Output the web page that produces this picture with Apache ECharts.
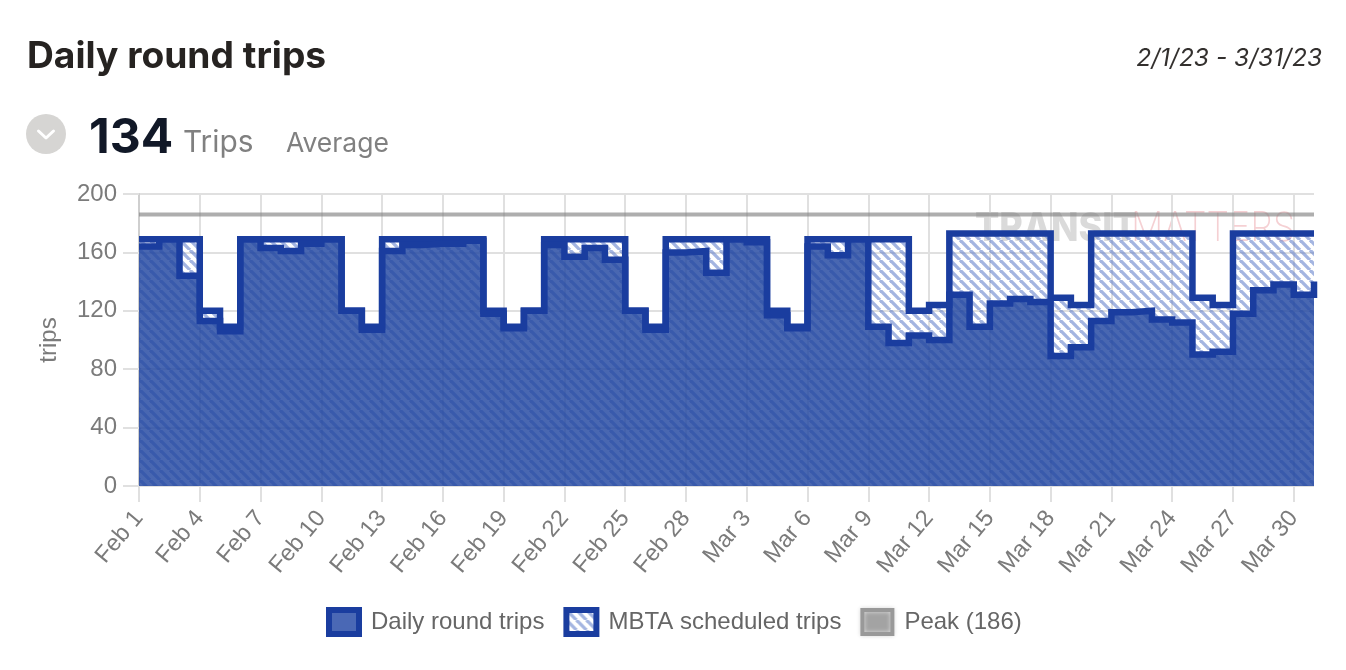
<!DOCTYPE html>
<html>
<head>
<meta charset="utf-8">
<style>html,body{margin:0;padding:0;background:#fff}#chart{width:1346px;height:670px}</style>
<script src="https://cdn.jsdelivr.net/npm/echarts@6/dist/echarts.min.js"></script>
</head>
<body>
<div id="chart"></div>
<script>
// Daily labels from Feb 1 to Mar 31, 2023
const febDays = Array.from({length: 28}, (_, i) => 'Feb ' + (i + 1));
const marDays = Array.from({length: 31}, (_, i) => 'Mar ' + (i + 1));
const days = febDays.concat(marDays);

const dailyTrips = [
  164,169,144,113,106,169,163,161,166,169,120,107,161,165,166,166,168,118,108,120,165,157,163,155,120,107,160,161,
  146,169,167,117,108,164,158,169,109,98,103,100,131,109,125,128,126,89,95,113,119,120,114,112,90,92,118,134,138,131,140
];
const scheduledTrips = [
  169,169,169,120,109,169,169,169,169,169,120,109,169,169,169,169,169,120,109,120,169,169,169,169,120,109,169,169,
  169,169,169,120,109,169,169,169,169,169,120,124,173,173,173,173,173,129,124,173,173,173,173,173,129,124,173,173,173,173,173
];
const peakTrips = days.map(() => 186);
const yTicks = [0, 40, 80, 120, 160, 200];

const BLUE = '#1a3d9f';
const DAILY_FILL = 'rgba(33,70,160,0.82)';
const TEXT_GREY = '#7b7b7b';
const AXIS_FONT = '"Liberation Sans", Arial, sans-serif';

// Diagonal stripes used for the scheduled-trips fill
function stripes() {
  const size = 10;
  const c = document.createElement('canvas');
  c.width = c.height = size;
  const g = c.getContext('2d');
  g.strokeStyle = 'rgba(90,120,200,0.55)';
  g.lineWidth = 3.3;
  for (const off of [-size, 0, size]) {
    g.beginPath();
    g.moveTo(off, 0);
    g.lineTo(off + size, size);
    g.stroke();
  }
  return c;
}
const hatch = {image: stripes(), repeat: 'repeat'};

const chart = echarts.init(document.getElementById('chart'), null, {renderer: 'canvas'});
chart.setOption({
  animation: false,
  backgroundColor: '#fff',
  grid: {left: 139, right: 32, top: 194, bottom: 184, containLabel: false},
  graphic: [
    {type: 'text', left: 27, top: 38, style: {text: 'Daily round trips', font: '700 37.2px Inter, sans-serif', fill: '#262321'}},
    {type: 'text', right: 24, top: 46, style: {text: '2/1/23 - 3/31/23', font: 'italic 400 24.5px Inter, sans-serif', fill: '#33302e'}},
    {type: 'circle', shape: {cx: 46, cy: 134, r: 20}, style: {fill: '#d6d5d3'}},
    {type: 'polyline', shape: {points: [[38.5, 131], [46, 138], [53.5, 131]]}, style: {stroke: '#fff', lineWidth: 3, fill: null, lineCap: 'round', lineJoin: 'round'}},
    {type: 'text', left: 89, top: 115, style: {text: '134', font: '700 48px Inter, sans-serif', fill: '#111827'}},
    {type: 'text', left: 183, top: 128, style: {text: 'Trips', font: '400 29.8px Inter, sans-serif', fill: '#808080'}},
    {type: 'text', left: 286, top: 131, style: {text: 'Average', font: '400 26.5px Inter, sans-serif', fill: '#808080'}},
    {type: 'text', x: 975, y: 209, scaleY: 1.12, z: 0, silent: true, style: {text: 'TRANSIT', font: '800 36px Inter, sans-serif', fill: 'rgba(150,150,150,0.35)'}},
    {type: 'text', x: 1131, y: 209, scaleY: 1.12, z: 0, silent: true, style: {text: 'MATTERS', font: '200 36px Inter, sans-serif', fill: 'rgba(225,120,130,0.35)'}}
  ],
  legend: {
    left: 326, top: 607, padding: 0, itemWidth: 30, itemHeight: 24, itemGap: 19, selectedMode: false,
    textStyle: {fontFamily: AXIS_FONT, fontSize: 24, color: '#666', padding: [0, 0, 0, 7]},
    data: [
      {name: 'Daily round trips', icon: 'rect', itemStyle: {color: '#4a68b5', borderColor: BLUE, borderWidth: 6}},
      {name: 'MBTA scheduled trips', icon: 'rect', itemStyle: {color: hatch, borderColor: BLUE, borderWidth: 6}},
      {name: 'Peak (186)', icon: 'rect', itemStyle: {color: '#a3a3a3', borderColor: '#999999', borderWidth: 4, shadowColor: '#dcdcdc', shadowBlur: 4}}
    ]
  },
  xAxis: {
    type: 'category', data: days, boundaryGap: false,
    axisLine: {show: false},
    axisTick: {show: true, alignWithLabel: true, interval: 2, length: 16, lineStyle: {color: '#e0e0e0', width: 2}},
    axisLabel: {interval: 2, rotate: 50, margin: 28, fontSize: 23.5, fontFamily: AXIS_FONT, color: TEXT_GREY},
    splitLine: {show: true, interval: 2, lineStyle: {color: '#e0e0e0', width: 2}}
  },
  yAxis: {
    type: 'value', min: 0, max: 200, interval: 40,
    name: 'trips', nameLocation: 'middle', nameGap: 78,
    nameTextStyle: {fontFamily: AXIS_FONT, fontSize: 24, color: TEXT_GREY},
    axisLine: {show: true, lineStyle: {color: '#cfcfcf', width: 2}},
    axisTick: {show: true, length: 16, lineStyle: {color: '#e0e0e0', width: 2}},
    axisLabel: {margin: 22, fontSize: 24, fontFamily: AXIS_FONT, color: TEXT_GREY, customValues: yTicks},
    splitLine: {show: true, lineStyle: {color: '#e0e0e0', width: 2}}
  },
  series: [
    {
      name: 'MBTA scheduled trips', type: 'line', step: 'end', data: scheduledTrips, symbol: 'none', z: 2,
      lineStyle: {color: BLUE, width: 6.5, join: 'miter'}, areaStyle: {color: hatch, opacity: 1}, itemStyle: {color: BLUE}
    },
    {
      name: 'Daily round trips', type: 'line', step: 'end', data: dailyTrips, symbol: 'none', z: 3,
      lineStyle: {color: BLUE, width: 6.5, join: 'miter'}, areaStyle: {color: DAILY_FILL, opacity: 1}, itemStyle: {color: BLUE}
    },
    {
      name: 'Peak (186)', type: 'line', data: peakTrips, symbol: 'none', z: 4,
      lineStyle: {color: 'rgba(130,130,130,0.65)', width: 4}, itemStyle: {color: '#a3a3a3'}
    }
  ]
});
</script>
</body>
</html>
